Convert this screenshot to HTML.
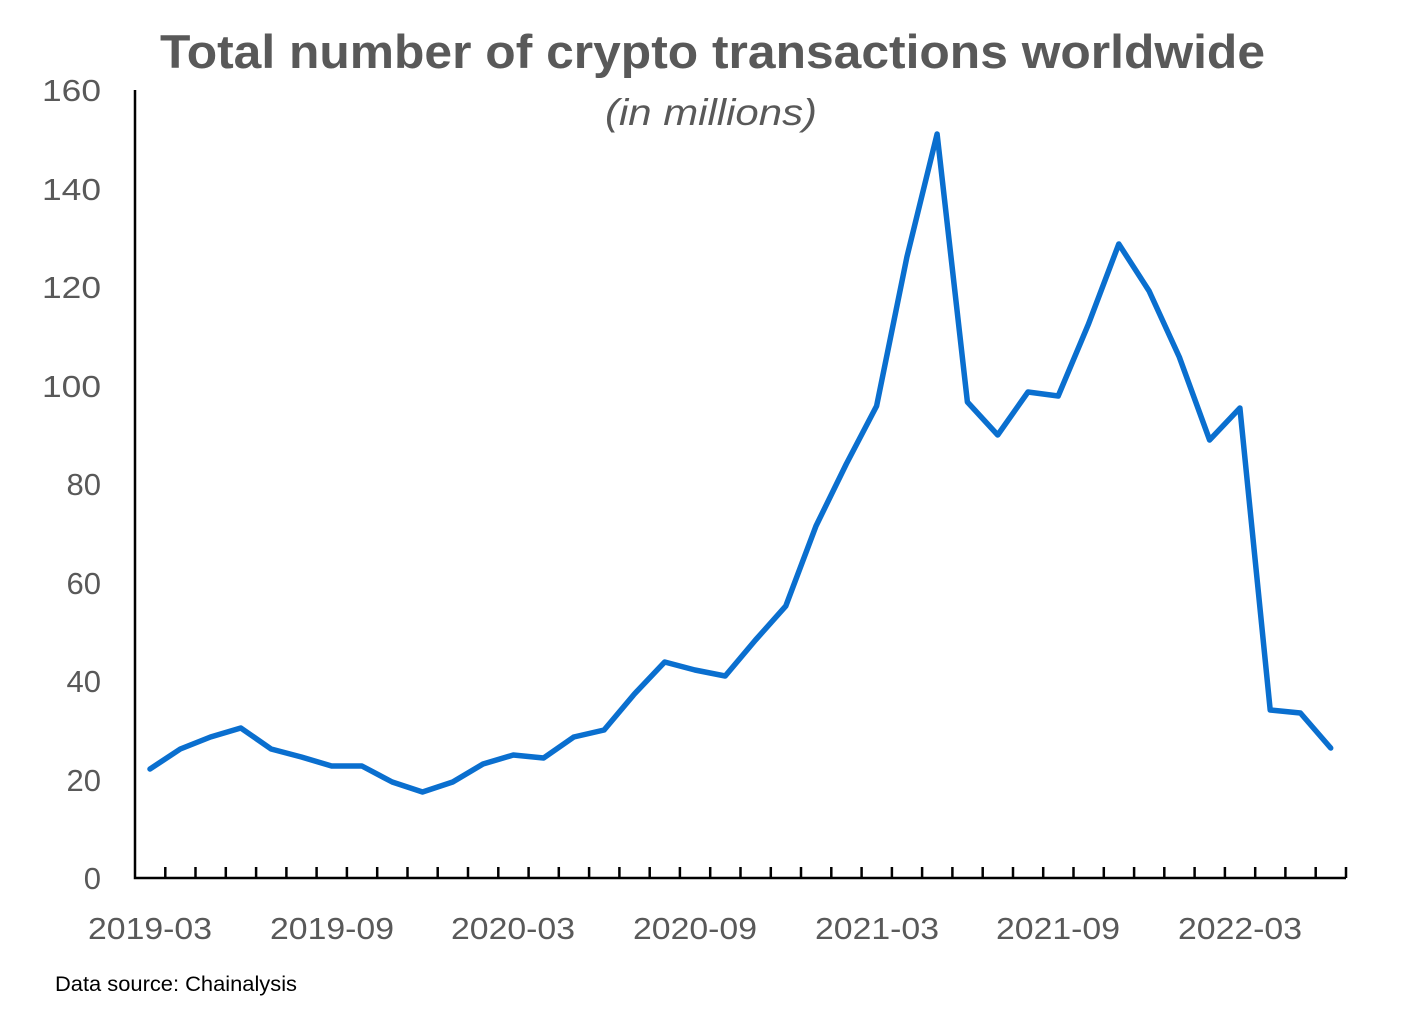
<!DOCTYPE html>
<html><head><meta charset="utf-8"><style>
body{margin:0;background:#fff}
svg{display:block}
text{font-family:"Liberation Sans",sans-serif}
</style></head><body>
<svg width="1420" height="1030" viewBox="0 0 1420 1030">
<rect width="1420" height="1030" fill="#fff"/>
<text x="160" y="68" textLength="1105" lengthAdjust="spacingAndGlyphs" font-size="47" font-weight="bold" fill="#595959">Total number of crypto transactions worldwide</text>
<text x="605" y="125" textLength="212" lengthAdjust="spacingAndGlyphs" font-size="37" font-style="italic" fill="#595959">(in millions)</text>
<g font-size="31" fill="#595959" text-anchor="end">
<text x="101" y="889">0</text><text x="101" y="791">20</text><text x="101" y="692">40</text><text x="101" y="594">60</text><text x="101" y="495">80</text><text x="101" y="397" textLength="59" lengthAdjust="spacingAndGlyphs">100</text><text x="101" y="298" textLength="59" lengthAdjust="spacingAndGlyphs">120</text><text x="101" y="200" textLength="59" lengthAdjust="spacingAndGlyphs">140</text><text x="101" y="101" textLength="59" lengthAdjust="spacingAndGlyphs">160</text>
</g>
<g font-size="31" fill="#595959">
<text x="88" y="939" textLength="124" lengthAdjust="spacingAndGlyphs">2019-03</text><text x="270" y="939" textLength="124" lengthAdjust="spacingAndGlyphs">2019-09</text><text x="451" y="939" textLength="124" lengthAdjust="spacingAndGlyphs">2020-03</text><text x="633" y="939" textLength="124" lengthAdjust="spacingAndGlyphs">2020-09</text><text x="815" y="939" textLength="124" lengthAdjust="spacingAndGlyphs">2021-03</text><text x="996" y="939" textLength="124" lengthAdjust="spacingAndGlyphs">2021-09</text><text x="1178" y="939" textLength="124" lengthAdjust="spacingAndGlyphs">2022-03</text>
</g>
<text x="55" y="991" textLength="242" lengthAdjust="spacingAndGlyphs" font-size="21" fill="#000">Data source: Chainalysis</text>
<path d="M135 90V878H1346" fill="none" stroke="#000" stroke-width="2.5"/>
<path stroke="#000" stroke-width="2.5" d="M165.3 878v-11M195.5 878v-11M225.8 878v-11M256.1 878v-11M286.4 878v-11M316.6 878v-11M346.9 878v-11M377.2 878v-11M407.5 878v-11M437.7 878v-11M468 878v-11M498.3 878v-11M528.6 878v-11M558.8 878v-11M589.1 878v-11M619.4 878v-11M649.7 878v-11M679.9 878v-11M710.2 878v-11M740.5 878v-11M770.8 878v-11M801 878v-11M831.3 878v-11M861.6 878v-11M891.9 878v-11M922.1 878v-11M952.4 878v-11M982.7 878v-11M1013 878v-11M1043.2 878v-11M1073.5 878v-11M1103.8 878v-11M1134.1 878v-11M1164.3 878v-11M1194.6 878v-11M1224.9 878v-11M1255.2 878v-11M1285.4 878v-11M1315.7 878v-11M1346 878v-11"/>
<polyline fill="none" stroke="#0a6fcf" stroke-width="5.5" stroke-linejoin="round" stroke-linecap="round" points="150,769 180.3,749 210.5,737 240.8,728 271.1,749 301.4,757 331.6,766 361.9,766 392.2,782 422.5,792 452.7,782 483,764 513.3,755 543.6,758 573.8,737 604.1,730 634.4,694 664.7,662 694.9,670 725.2,676 755.5,640 785.8,606 816,526 846.3,464 876.6,406 906.9,257 937.1,134 967.4,402 997.7,435 1028,392 1058.2,396 1088.5,324 1118.8,244 1149.1,291 1179.3,357 1209.6,440 1239.9,408 1270.2,710 1300.4,713 1330.7,748"/>
</svg>
</body></html>
